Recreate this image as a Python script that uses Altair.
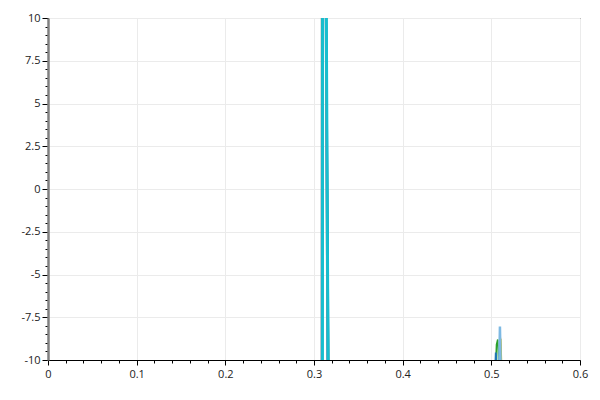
import altair as alt
import pandas as pd

# Series (draw order a..h), colours and line widths
series = ["a_gray", "b_purple", "c_orange", "d_olive", "e_green", "f_blue", "g_lightblue", "h_teal"]
colors = ["#7f7f7f", "#9467bd", "#ff7f0e", "#bcbd22", "#2ca02c", "#1f77b4", "#7db9e3", "#17becf"]
widths = [1.5, 1.5, 1.5, 1.5, 1.5, 1.5, 2.0, 3.0]

# x / y values of each series (values outside [-10, 10] are clipped)
xs = {
    "a_gray":      [0.0, 0.3083, 0.3085, 0.3128, 0.3150, 0.6],
    "b_purple":    [0.0, 0.3086, 0.3088, 0.3130, 0.3154, 0.6],
    "c_orange":    [0.0, 0.3090, 0.3092, 0.3133, 0.3158, 0.5085, 0.5098, 0.5102, 0.5115, 0.6],
    "d_olive":     [0.0, 0.3091, 0.3093, 0.3135, 0.3162, 0.5090, 0.5103, 0.5107, 0.5120, 0.6],
    "e_green":     [0.0, 0.3092, 0.3094, 0.3138, 0.3166, 0.5045, 0.5058, 0.5072, 0.5088, 0.6],
    "f_blue":      [0.0, 0.3094, 0.3096, 0.3140, 0.3168, 0.5038, 0.5048, 0.5054, 0.5064, 0.6],
    "g_lightblue": [0.0, 0.5084, 0.5094, 0.5100, 0.5110, 0.6],
    "h_teal":      [0.0, 0.3095, 0.3097, 0.3137, 0.3160, 0.6],
}
ys = {
    "a_gray":      [-12, -12, 12, 12, -12, -12],
    "b_purple":    [-12, -12, 12, 12, -12, -12],
    "c_orange":    [-12, -12, 12, 12, -12, -11, -8.6, -8.7, -11, -12],
    "d_olive":     [-12, -12, 12, 12, -12, -11, -8.8, -8.8, -11, -12],
    "e_green":     [-12, -12, 12, 12, -12, -11, -9.1, -8.8, -11, -12],
    "f_blue":      [-12, -12, 12, 12, -12, -11, -9.6, -9.6, -11, -12],
    "g_lightblue": [-12, -11, -8.1, -8.1, -11, -12],
    "h_teal":      [-12, -12, 12, 12, -12, -12],
}

x_ticks = [round(0.02 * i, 2) for i in range(31)]
y_ticks = [-10 + 0.5 * i for i in range(41)]

rows = []
for s, w in zip(series, widths):
    for i, (x, y) in enumerate(zip(xs[s], ys[s])):
        rows.append({"series": s, "x": x, "y": y, "i": i, "w": w})
df = pd.DataFrame(rows)

x_major = "abs(datum.value*10 - round(datum.value*10)) < 0.001"
y_major = "abs(datum.value/2.5 - round(datum.value/2.5)) < 0.001"

font = "Open Sans"

chart = alt.Chart(df).mark_line(clip=True, strokeJoin="miter").encode(
    x=alt.X("x:Q", scale=alt.Scale(domain=[0, 0.6], nice=False, zero=False),
            axis=alt.Axis(values=x_ticks, title=None,
                          labelExpr=f"{x_major} ? '' + round(datum.value*10)/10 : ''",
                          tickSize={"condition": {"test": x_major, "value": 5}, "value": 3},
                          gridOpacity={"condition": {"test": x_major, "value": 1}, "value": 0},
                          gridColor="#ebebeb", tickColor="#000000", domainColor="#000000",
                          labelFont=font, labelFontSize=11, labelColor="#222222",
                          labelOverlap=False, labelFlush=False, labelPadding=3)),
    y=alt.Y("y:Q", scale=alt.Scale(domain=[-10, 10], nice=False, zero=False),
            axis=alt.Axis(values=y_ticks, title=None,
                          labelExpr=f"{y_major} ? '' + datum.value : ''",
                          tickSize={"condition": {"test": y_major, "value": 6}, "value": 3},
                          gridOpacity={"condition": {"test": y_major, "value": 1}, "value": 0},
                          gridColor="#ebebeb", tickColor="#000000", domainColor="#808080",
                          domainWidth=2.5, labelFont=font, labelFontSize=11,
                          labelColor="#222222", labelOverlap=False, labelPadding=2)),
    color=alt.Color("series:N", scale=alt.Scale(domain=series, range=colors), legend=None),
    strokeWidth=alt.StrokeWidth("w:Q", scale=None),
    order="i:Q",
).properties(
    width=532, height=342,
    padding={"left": 40, "top": 10, "right": 12, "bottom": 32},
    autosize=alt.AutoSizeParams(type="none"),
).configure_view(stroke="#000000", strokeWidth=1)

chart.save("out.html", embed_options={"renderer": "svg", "actions": False})
